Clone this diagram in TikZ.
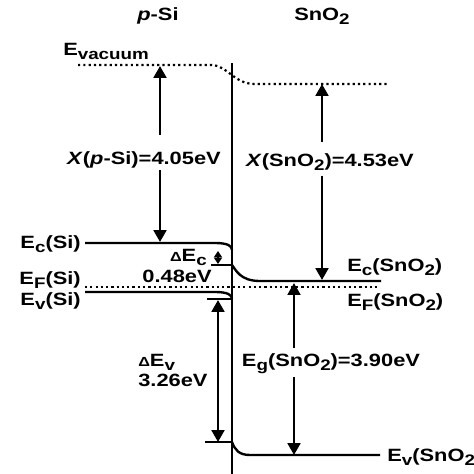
\documentclass[tikz,border=0pt]{standalone}
\usepackage{fontspec}
\setmainfont{Liberation Sans}[FakeStretch=1.23]
\usetikzlibrary{arrows.meta}
\newcommand\lo[1]{\raisebox{-0.45ex}{\fontsize{11}{12}\selectfont #1}}
\newcommand\dlt{{\fontsize{9.5}{10}\selectfont Δ}}

\begin{document}
\begin{tikzpicture}[
  x=0.02532cm, y=-0.02532cm,
  >={Triangle[length=3mm,width=3.2mm]},
  band/.style={line width=1.7pt},
  level/.style={line width=1.6pt,dash pattern=on 1.6pt off 2.2pt},
  iface/.style={line width=2pt},
  arr/.style={->,line width=2pt},
  tick/.style={line width=1.3pt},
  lbl/.style={inner sep=0pt,font=\bfseries\fontsize{12.8}{14}\selectfont}
]
  \useasboundingbox (0,0) rectangle (474,474);

  % levels and interface points
  \coordinate (vacL) at (78,65);    \coordinate (vacR) at (387,84);
  \coordinate (ecSiL) at (85,243);  \coordinate (ecSiI) at (232,250);
  \coordinate (ecSnI) at (232,265); \coordinate (ecSnR) at (381,281);
  \coordinate (efL) at (85,287);    \coordinate (efR) at (380,287);
  \coordinate (evSiL) at (85,292);  \coordinate (evSiI) at (232,299);
  \coordinate (evSnI) at (232,442); \coordinate (evSnR) at (380,455);
  \coordinate (ifTop) at (232,63);  \coordinate (ifBot) at (232,474);

  % arrow ends
  \coordinate (vacSi) at (160,66);  \coordinate (ecSiA) at (160,242);
  \coordinate (vacSn) at (322,84);  \coordinate (ecSnA) at (322,280);
  \coordinate (egTop) at (294,283); \coordinate (egBot) at (294,455);
  \coordinate (dEcT) at (218,251);  \coordinate (dEcB) at (218,264);
  \coordinate (dEvT) at (218,300);  \coordinate (dEvB) at (218,442);

  % labels
  \node[lbl] (psi) at (158,16) {\textit{p}-Si};
  \node[lbl] (sno) at (322,16) {SnO\lo{2}};
  \node[lbl,anchor=base west] (evac) at (63,55) {E\lo{vacuum}};
  \node[lbl,anchor=base] (chiSi) at (144,164) {\textit{X}(\textit{p}-Si)=4.05eV};
  \node[lbl,anchor=base] (chiSn) at (330,166) {\textit{X}(SnO\lo{2})=4.53eV};
  \node[lbl,anchor=base east] (ecSiLbl) at (81,248) {E\lo{c}(Si)};
  \node[lbl,anchor=base east] (efSiLbl) at (81,284) {E\lo{F}(Si)};
  \node[lbl,anchor=base east] (evSiLbl) at (81,305) {E\lo{v}(Si)};
  \node[lbl,anchor=base east] (dEcLbl) at (207,261) {\dlt E\lo{c}};
  \node[lbl,anchor=base east] (dEcVal) at (212,282) {0.48eV};
  \node[lbl,anchor=base west] (ecSnLbl) at (347,271) {E\lo{c}(SnO\lo{2})};
  \node[lbl,anchor=base west] (efSnLbl) at (347,306) {E\lo{F}(SnO\lo{2})};
  \node[lbl,anchor=base west] (dEvLbl) at (138,366) {\dlt E\lo{v}};
  \node[lbl,anchor=base west] (dEvVal) at (138,386) {3.26eV};
  \node[lbl,anchor=base] (egLbl) at (331,366) {E\lo{g}(SnO\lo{2})=3.90eV};
  \node[lbl,anchor=base west] (evSnLbl) at (387,461) {E\lo{v}(SnO\lo{2})};

  % bands
  \draw[level] (vacL) -- (212,65) .. controls (228,66) and (234,84) .. (255,84) -- (vacR);
  \draw[band] (ecSiL) -- (215,243) .. controls (228,243) and (232,246) .. (ecSiI);
  \draw[band] (ecSnI) .. controls (236,270) and (240,281) .. (260,281) -- (ecSnR);
  \draw[level] (efL) -- (efR);
  \draw[band] (evSiL) -- (215,292) .. controls (228,292) and (232,295) .. (evSiI);
  \draw[band] (evSnI) .. controls (235,450) and (239,455) .. (250,455) -- (evSnR);
  \draw[iface] (ifTop) -- (ifBot);

  % offsets
  \draw[tick] (211,265) -- (ecSnI);
  \draw[tick] (207,299) -- (evSiI);
  \draw[tick] (205,442) -- (evSnI);
  \draw[line width=1.3pt,{Triangle[length=1.6mm,width=2mm]}-{Triangle[length=1.6mm,width=2mm]}] (dEcT) -- (dEcB);
  \draw[arr,<->] (dEvT) -- (dEvB);

  \draw[arr,shorten <=0.41cm] (chiSi.north -| vacSi) -- (vacSi);
  \draw[arr,shorten <=0.06cm] (chiSi.south -| ecSiA) -- (ecSiA);
  \draw[arr,shorten <=0.28cm] (chiSn.north -| vacSn) -- (vacSn);
  \draw[arr,shorten <=0.13cm] (chiSn.south -| ecSnA) -- (ecSnA);
  \draw[arr,shorten <=0.13cm] (egLbl.north -| egTop) -- (egTop);
  \draw[arr,shorten <=0.08cm] (egLbl.south -| egBot) -- (egBot);
\end{tikzpicture}
\end{document}
